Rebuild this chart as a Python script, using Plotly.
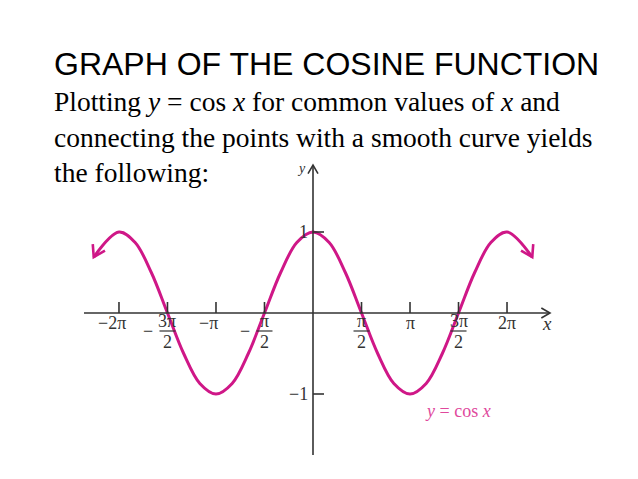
import numpy as np
import plotly.graph_objects as go

# ---------------- data ----------------
# common values of x (in multiples of pi) and y = cos x
x_pi = [-2.26, -2, -11/6, -5/3, -3/2, -4/3, -7/6, -1, -5/6, -2/3, -1/2, -1/3, -1/6,
        0, 1/6, 1/3, 1/2, 2/3, 5/6, 1, 7/6, 4/3, 3/2, 5/3, 11/6, 2, 2.26]
y_vals = [0.69, 1, 0.87, 0.5, 0, -0.5, -0.87, -1, -0.87, -0.5, 0, 0.5, 0.87,
          1, 0.87, 0.5, 0, -0.5, -0.87, -1, -0.87, -0.5, 0, 0.5, 0.87, 1, 0.69]

x_tick_pi = [-2, -1.5, -1, -0.5, 0.5, 1, 1.5, 2]
x_tick_labels = ["−2π", "−3π/2", "−π", "−π/2", "π/2", "π", "3π/2", "2π"]
y_ticks = [1, -1]
y_tick_labels = ["1", "−1"]

title_text = "GRAPH OF THE COSINE FUNCTION"
body_lines = ["Plotting <i>y</i> = cos <i>x</i> for common values of <i>x</i> and",
              "connecting the points with a smooth curve yields",
              "the following:"]
curve_label = "<i>y</i> = cos <i>x</i>"

# ---------------- geometry ----------------
PAGE_W, PAGE_H = 638, 479
OFF = 8                          # page body margin
W, H = PAGE_W - 2 * OFF, PAGE_H - 2 * OFF
X0_PX, Y0_PX = 313, 313          # page pixel position of the origin
SX, SY = 30.88, 81.0             # pixels per unit
CURVE = "#cf1787"
AX = "#333333"
SERIF = "Liberation Serif, Times New Roman, serif"


def px2x(px):
    return (px - X0_PX) / SX


def px2y(py):
    return (Y0_PX - py) / SY


def pgx(px):
    return (px - OFF) / W


def pgy(py):
    return 1 - (py - OFF) / H


def vhead(tx, ty, dxp, dyp, L=10, ang=28):
    """open V arrowhead at data point (tx,ty) pointing along pixel dir (dxp,dyp)."""
    n = np.hypot(dxp, dyp)
    bx, by = -dxp / n, -dyp / n
    pts = []
    for s in (1, -1):
        a = np.radians(ang) * s
        rx = bx * np.cos(a) - by * np.sin(a)
        ry = bx * np.sin(a) + by * np.cos(a)
        pts.append((tx + rx * L / SX, ty - ry * L / SY))
    return (f"M {pts[0][0]},{pts[0][1]} L {tx},{ty} L {pts[1][0]},{pts[1][1]}")


x_vals = np.array(x_pi) * np.pi

fig = go.Figure()
fig.add_trace(go.Scatter(x=x_vals, y=y_vals, mode="lines",
                         line=dict(color=CURVE, width=3, shape="spline"),
                         hoverinfo="skip", showlegend=False))

shapes = []
# axes
x_left, x_right = px2x(84), px2x(550)
y_bot, y_top = px2y(455), px2y(165)
shapes.append(dict(type="line", xref="x", yref="y", x0=x_left, x1=x_right, y0=0, y1=0,
                   line=dict(color=AX, width=1.6)))
shapes.append(dict(type="line", xref="x", yref="y", x0=0, x1=0, y0=y_bot, y1=y_top,
                   line=dict(color=AX, width=1.6)))
shapes.append(dict(type="path", xref="x", yref="y", path=vhead(x_right, 0, 1, 0, L=10, ang=30),
                   line=dict(color=AX, width=1.6)))
shapes.append(dict(type="path", xref="x", yref="y", path=vhead(0, y_top, 0, -1, L=10, ang=30),
                   line=dict(color=AX, width=1.6)))

# curve end arrowheads (direction from curve slope)
for xe, ye, sgn in [(x_vals[0], y_vals[0], -1), (x_vals[-1], y_vals[-1], 1)]:
    slope = -np.sin(xe)
    dxp = sgn * 1.0
    dyp = -(slope * sgn) * SY / SX
    shapes.append(dict(type="path", xref="x", yref="y", path=vhead(xe, ye, dxp, dyp, L=13, ang=32),
                       line=dict(color=CURVE, width=2.6)))

annotations = []
TICKFONT = dict(family=SERIF, size=18, color=AX)
# x ticks and labels
for tp, lab in zip(x_tick_pi, x_tick_labels):
    xv = tp * np.pi
    shapes.append(dict(type="line", xref="x", yref="y", x0=xv, x1=xv, y0=0, y1=px2y(302),
                       line=dict(color=AX, width=1.6)))
    if "/" in lab:
        neg = lab.startswith("−")
        num, den = lab.lstrip("−").split("/")
        annotations.append(dict(x=xv, y=px2y(321), text=num, showarrow=False, font=TICKFONT))
        annotations.append(dict(x=xv, y=px2y(342), text=den, showarrow=False, font=TICKFONT))
        shapes.append(dict(type="line", xref="x", yref="y", x0=xv - 8 / SX, x1=xv + 8 / SX,
                           y0=px2y(331), y1=px2y(331), line=dict(color=AX, width=1.2)))
        if neg:
            annotations.append(dict(x=xv - 19 / SX, y=px2y(331), text="−", showarrow=False,
                                    font=TICKFONT))
    else:
        annotations.append(dict(x=xv - (7 / SX if lab.startswith("−") else 0), y=px2y(323),
                                text=lab, showarrow=False, font=TICKFONT))

# y ticks and labels
for yv, lab in zip(y_ticks, y_tick_labels):
    shapes.append(dict(type="line", xref="x", yref="y", x0=0, x1=px2x(324), y0=yv, y1=yv,
                       line=dict(color=AX, width=1.6)))
    annotations.append(dict(x=px2x(310), y=yv, text=lab, showarrow=False, xanchor="right",
                            font=TICKFONT))

# axis names
annotations.append(dict(x=px2x(547), y=px2y(323), text="<i>x</i>", showarrow=False,
                        font=dict(family=SERIF, size=19, color=AX)))
annotations.append(dict(x=px2x(301), y=px2y(168), text="<i>y</i>", showarrow=False,
                        font=dict(family=SERIF, size=14, color=AX)))
# curve label
annotations.append(dict(x=px2x(458), y=px2y(411), text=curve_label, showarrow=False,
                        font=dict(family=SERIF, size=18, color="#e0489c")))

# title and body text
annotations.append(dict(xref="paper", yref="paper", x=pgx(326), y=pgy(64), text=title_text,
                        showarrow=False, xanchor="center", yanchor="middle",
                        font=dict(family="Liberation Sans, Arial, sans-serif",
                                  size=32, color="#000000")))
for i, line in enumerate(body_lines):
    annotations.append(dict(xref="paper", yref="paper", x=pgx(52), y=pgy(102 + 35 * i),
                            text=line, showarrow=False, xanchor="left", yanchor="middle",
                            font=dict(family=SERIF, size=27.5, color="#000000")))

fig.update_layout(
    width=W, height=H,
    margin=dict(l=0, r=0, t=0, b=0),
    paper_bgcolor="white", plot_bgcolor="white",
    xaxis=dict(range=[px2x(OFF), px2x(OFF + W)], visible=False, fixedrange=True),
    yaxis=dict(range=[px2y(OFF + H), px2y(OFF)], visible=False, fixedrange=True),
    shapes=shapes, annotations=annotations,
)

fig.write_html("out.html")
